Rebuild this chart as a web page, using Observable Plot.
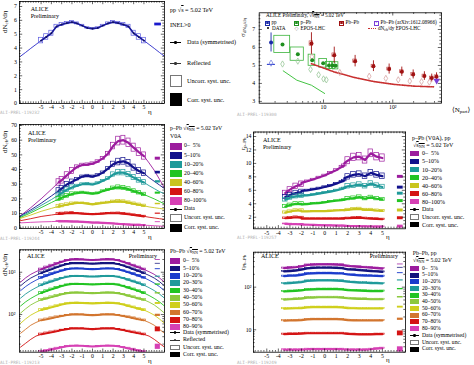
<!DOCTYPE html>
<html><head><meta charset="utf-8">
<script src="https://cdn.jsdelivr.net/npm/d3@7"></script>
<script src="https://cdn.jsdelivr.net/npm/@observablehq/plot@0.6"></script>
<style>
html,body{margin:0;padding:0;background:#fff;}
#page{position:relative;width:474px;height:365px;overflow:hidden;font-family:"Liberation Serif","DejaVu Serif",serif;color:#000;}
#page svg{position:absolute;}
.t{position:absolute;white-space:nowrap;line-height:1;}
.b{position:absolute;box-sizing:border-box;}
.ov{text-decoration:overline;}
sub{font-size:70%;vertical-align:-0.3em;line-height:0;}
.wm{position:absolute;white-space:nowrap;font-family:"DejaVu Sans Mono",monospace;font-size:4.4px;color:#b4b4b4;line-height:1;}
</style></head>
<body><div id="page"></div>
<script>
// ================= DATA =================
const etaTicks = [-5,-4,-3,-2,-1,0,1,2,3,4,5];

// ---- Panel 1: pp dN/deta (symmetrised, 0..5) ----
const ppEta = [0,0.5,1,1.5,2,2.5,3,3.5,4,4.5,5];
const ppVal = [5.40,5.45,5.62,5.78,5.87,5.80,5.70,5.56,5.07,4.80,4.54];
const ppUnc = [0.05,0.05,0.06,0.07,0.08,0.08,0.10,0.12,0.18,0.20,0.20];
const ppTailEta = [5.5,6,6.5,7];
const ppTailVal = [4.26,3.98,3.69,3.41];
const ppCorrLevel = 5.7, ppCorrUnc = 0.1;
const ppYTicks = [0,1,2,3,4,5,6,7];

// ---- Panel 2: width of dN/deta vs Npart ----
const sigYTicks = [3,4,5,6,7];
const npartTicks = [10,100];
const ppNpart = [1.75], ppSig = [6.28], ppSigErr = [0.53];
const ppEposNpart = [1.75], ppEposSig = [5.13];
const ppEposDyNpart = [1.55,1.98], ppEposDy = [5.06,5.06];
const pPbNpart = [2.56,4.26,6.87,9.9,12.0,13.5,15.0];
const pPbSig = [6.17,5.63,5.29,5.12,5.00,5.00,4.98];
const pPbSigSys = [0.48,0.37,0.31,0.24,0.20,0.20,0.20];
const pPbNpartLo = [1.95,3.35,6.1,8.7,10.9,12.3,13.7];
const pPbNpartHi = [3.3,5.2,7.6,11.2,13.3,14.8,16.4];
const pPbEposNpart = [2.56,4.26,6.5,8.5,10,11];
const pPbEposSig = [5.08,5.24,4.78,4.48,4.25,4.20];
const pPbEposDyNpart = [2.62,4.12,6.7,10.4];
const pPbEposDy = [4.70,4.18,3.90,3.44];
const PbPbNpart = [6.7,14.3,28.6,52.6,88.6,135,197,286,365,428];
const PbPbSig = [6.22,5.57,5.24,4.96,4.80,4.65,4.50,4.41,4.30,4.37];
const PbPbSigErr = [0.60,0.45,0.32,0.30,0.28,0.26,0.25,0.24,0.22,0.22];
const PbPbSigSys = [0.12,0.10,0.09,0.08,0.08,0.08,0.08,0.08,0.08,0.08];
const PbPbEposNpart = [6.8,17.2,45.7,79.4,120,176,260,337];
const PbPbEposSig = [5.48,4.61,4.40,4.28,4.20,4.13,4.10,4.07];
const PbPbEposDyNpart = [6.7,14.3,28,54,103,200,390];
const PbPbEposDy = [5.10,4.64,4.33,4.10,3.95,3.85,3.81];
const arxivNpart = [430], arxivSig = [4.15];

// ---- Panel 3: p-Pb dN/deta ----
const pPbClasses = ["0–\u20075%","5–10%","10–20%","20–40%","40–60%","60–80%","80–100%"];
const pPbColors = ["#9c1c9e","#12128c","#1f9a9a","#22c422","#c9c51e","#d41414","#d640b4"];
const pPbEta = [-3.3,-3,-2.5,-2,-1.5,-1,-0.5,0,0.5,1,1.5,2,2.5,3,3.5,4,4.5,5];
const pPbVal = [
 [31.2,32.7,36.0,39.0,41.8,43.1,43.3,44.0,45.4,47.6,50.8,56.0,59.4,60.0,58.2,54.9,51.9,49.2],
 [25.5,27.0,29.8,31.6,33.4,35.2,35.7,35.2,36.1,37.9,40.6,43.6,45.1,45.6,44.2,41.3,39.0,37.5],
 [22.6,23.9,26.2,27.8,28.9,30.0,30.2,29.8,30.7,32.3,33.9,36.6,37.9,37.9,36.6,34.5,32.7,31.2],
 [19.9,20.8,22.1,23.3,23.9,24.4,23.9,23.5,23.9,25.3,26.2,27.3,27.8,27.5,26.6,25.3,24.2,23.0],
 [14.9,15.3,16.0,16.7,17.2,17.2,16.7,16.3,16.7,17.2,17.6,18.1,18.3,18.1,17.4,16.7,16.0,15.3],
 [9.7,9.9,10.2,10.4,10.2,9.9,9.7,9.5,9.7,9.9,10.2,10.2,10.2,9.9,9.5,9.0,8.6,8.1],
 [4.7,4.7,4.7,4.5,4.5,4.3,4.1,3.8,3.8,3.6,3.4,3.2,2.9,2.7,2.5,2.3,2.3,2.0]
];
const pPbUncRel = [0.07,0.07,0.06,0.05,0.025,0.02,0.02,0.02,0.02,0.02,0.025,0.04,0.05,0.05,0.05,0.05,0.05,0.05];
const pPbFitEtaL = [-7.1,-6,-5,-4];
const pPbFitL = [[8,14,20,26.5],[8,12.5,17,22],[7.5,11.5,15.5,19.5],[7,10.5,14,17.5],[6.5,9,11.5,13.5],[5,6.5,8,9],[3.6,4,4.3,4.5]];
const pPbFitEtaR = [5.5,6,6.5,7];
const pPbFitR = [[44.5,39.5,33.5,27.5],[34.5,32,29.5,27],[29,27,25,23.5],[21.5,20,18.3,16.5],[14.5,14,13.5,13],[7.5,7,6.5,6],[1.9,1.7,1.5,1.3]];
const pPbCorrLevel = [47.4,37.9,31.6,23.9,16.5,9.9,4.1];
const pPbCorrUnc = [1.0,0.9,0.8,0.7,0.5,0.4,0.3];
const pPbYTicks = [0,10,20,30,40,50,60,70];

// ---- Panel 4: p-Pb / pp ratio ----
const rpPbEta = [-3.4,-3,-2.5,-2, -2,-1.5,-1,-0.5,0,0.5,1,1.5,1.7, 1.7,2,2.5,3,3.5,4,4.5,5];
const rpPbSeg = [0,0,0,0, 1,1,1,1,1,1,1,1,1, 2,2,2,2,2,2,2,2];
const rpPbVal = [
 [5.6,6.1,6.6,6.9, 7.1,7.35,7.6,7.9,8.2,8.6,9.0,9.5,9.7, 10.0,10.4,10.9,11.0,10.5,11.5,11.0,10.8],
 [5.0,5.3,5.6,5.75, 5.9,6.0,6.15,6.3,6.5,6.7,7.0,7.3,7.45, 7.8,8.0,8.3,8.4,8.1,8.6,8.3,8.1],
 [4.6,4.9,5.1,5.2, 5.2,5.25,5.35,5.5,5.65,5.8,6.0,6.2,6.3, 6.4,6.6,6.7,6.85,6.6,7.0,6.7,6.5],
 [3.6,3.8,4.0,4.0, 3.9,3.95,4.05,4.1,4.2,4.35,4.45,4.55,4.6, 4.6,4.75,4.85,5.0,4.75,4.95,4.75,4.65],
 [2.7,2.85,3.0,3.0, 2.85,2.85,2.9,2.9,2.9,2.95,3.0,3.05,3.05, 3.05,3.1,3.2,3.25,3.1,3.1,3.0,2.95],
 [1.85,1.9,2.0,1.95, 1.8,1.8,1.8,1.8,1.8,1.8,1.8,1.8,1.8, 1.85,1.85,1.9,1.95,1.85,1.8,1.75,1.7],
 [1.0,0.98,0.96,0.95, 0.9,0.88,0.86,0.83,0.8,0.78,0.76,0.74,0.73, 0.72,0.7,0.68,0.66,0.64,0.62,0.61,0.6]
];
const rpPbUncRelBySeg = [0.06,0.015,0.05];
const rpPbCorr = [8.0,6.4,5.5,4.4,3.0,1.85,0.6];
const rpPbYTicks = [2,4,6,8,10,12,14];

// ---- Panel 5: Pb-Pb dN/deta (symmetrised 0..5) ----
const PbPbClasses = ["0–\u20075%","5–10%","10–20%","20–30%","30–40%","40–50%","50–60%","60–70%","70–80%","80–90%"];
const PbPbColors = ["#9c1c9e","#14147c","#1c3ccc","#1f9a9a","#22c422","#8cc83c","#cfcf1c","#d2752e","#d41414","#d640b4"];
const PbPbEta = [0,0.5,1,1.5,2,2.5,3,3.5,4,4.5,5];
const PbPbVal = [
 [1943,1962,2001,2021,2001,1904,1749,1593,1438,1302,1166],
 [1587,1603,1635,1650,1635,1555,1428,1301,1174,1063,952],
 [1180,1192,1215,1227,1215,1168,1086,991,909,826,743],
 [786,794,810,817,810,778,723,660,605,550,495],
 [512,517,527,532,527,507,471,430,394,358,323],
 [318,321,328,331,328,318,299,277,258,239,223],
 [183,185,188,190,188,183,172,159,148,137,128],
 [96,98,100,101,100,97,92,87,82,77,73],
 [45,46,47,47,47,45,43,40,38,36,34],
 [17.5,17.9,18.2,18.4,18.2,17.7,16.8,15.8,14.9,14.0,13.3]
];
const PbPbTailEta = [5.5,6,6.5,7];
const PbPbTail = [
 [1030,894,738,583],[841,730,603,476],[649,555,460,366],[432,369,307,244],[282,241,200,159],
 [197,169,137,108],[113,97,79,62],[65,56,45,36],[31,26,21,17],[11.9,10.2,8.2,6.5]
];
const PbPbUncRel = [0.01,0.01,0.01,0.01,0.015,0.015,0.02,0.04,0.045,0.045,0.045];
const PbPbCorrRel = [0.02,0.02,0.025,0.03,0.035,0.04,0.05,0.06,0.13,0.14];
const PbPbYTicks = [100,1000];

// ---- Panel 6: Pb-Pb / pp ratio ----
const rPbEta = [-3.5,-3,-2.5,-2,-1.5,-1,-0.5,0,0.5,1,1.5,2,2.5,3,3.5,4,4.5,5];
const rPbVal = [
 [280,286,293,307,331,338,341,341,341,338,334,314,307,300,293,286,280,273],
 [234,239,245,257,276,282,285,285,285,282,279,262,257,251,245,239,234,228],
 [181,185,187,194,207,211,213,213,213,211,209,198,194,190,187,185,183,181],
 [122,125,127,131,140,143,144,144,144,143,141,134,131,128,127,125,124,122],
 [79,81,82,84,88,89,90,90,90,90,89,85,84,83,82,81,81,81],
 [51,52,53,54,57,57,58,58,58,58,57,55,54,53,53,52,52,52],
 [31.3,31.6,32,32.3,33.7,34,34,34,34,34,33.7,32.3,32,31.6,31.6,31.6,31.6,31.6],
 [16.3,16.5,16.6,16.8,17.5,17.7,17.7,17.7,17.7,17.7,17.5,16.8,16.6,16.5,16.5,16.5,16.5,16.5],
 [7.9,8.0,8.0,8.1,8.3,8.3,8.3,8.3,8.3,8.3,8.3,8.0,7.9,7.8,7.8,7.8,7.9,7.9],
 [3.4,3.4,3.4,3.4,3.5,3.5,3.5,3.5,3.5,3.5,3.5,3.4,3.4,3.4,3.4,3.5,3.6,3.7]
];
const rPbUncRel = 0.03;
const rPbYTicks = [10,100];

// ================= HELPERS =================
const page = document.getElementById("page");
const SERIF = '"Liberation Serif","DejaVu Serif",serif';
const ppColor = "#2a2ac8";

function minorLin(lo, hi, step, majors) {
  const out = []; const n = Math.round((hi - lo) / step);
  for (let i = 0; i <= n; i++) { const v = +(lo + i * step).toFixed(6); if (!majors.some(m => Math.abs(m - v) < 1e-9)) out.push(v); }
  return out;
}
function minorLog(lo, hi) {
  const out = [];
  for (let e = Math.floor(Math.log10(lo)); e <= Math.ceil(Math.log10(hi)); e++)
    for (let k = 2; k <= 9; k++) { const v = k * 10 ** e; if (v >= lo && v <= hi) out.push(v); }
  return out;
}
function panel(cfg) {
  const {left, top, width, height, fl, fr, ft, fb, x, y, marks} = cfg;
  const fw = fr - fl, fh = fb - ft, M = 3.2, m = 1.7, sw = 0.6, k = "#000";
  const ax = [
    Plot.tickX(x.major, {x: d => d, insetTop: fh - M, stroke: k, strokeWidth: sw}),
    Plot.tickX(x.major, {x: d => d, insetBottom: fh - M, stroke: k, strokeWidth: sw}),
    Plot.tickX(x.minor, {x: d => d, insetTop: fh - m, stroke: k, strokeWidth: sw}),
    Plot.tickX(x.minor, {x: d => d, insetBottom: fh - m, stroke: k, strokeWidth: sw}),
    Plot.tickY(y.major, {y: d => d, insetRight: fw - M, stroke: k, strokeWidth: sw}),
    Plot.tickY(y.major, {y: d => d, insetLeft: fw - M, stroke: k, strokeWidth: sw}),
    Plot.tickY(y.minor, {y: d => d, insetRight: fw - m, stroke: k, strokeWidth: sw}),
    Plot.tickY(y.minor, {y: d => d, insetLeft: fw - m, stroke: k, strokeWidth: sw}),
    Plot.axisX(x.major, {tickSize: 0, tickPadding: 1.8, tickFormat: x.fmt || (d => String(d)), fontSize: 5.8, label: null}),
    Plot.axisY(y.major, {tickSize: 0, tickPadding: y.pad ?? 3, tickFormat: y.fmt || (d => String(d)), fontSize: 5.8, label: null})
  ];
  const svg = Plot.plot({
    width, height,
    marginLeft: fl - left, marginRight: left + width - fr, marginTop: ft - top, marginBottom: top + height - fb,
    x: {type: x.type || "linear", domain: x.domain},
    y: {type: y.type || "linear", domain: y.domain},
    style: {fontFamily: SERIF, background: "transparent", overflow: "visible", color: "#000"},
    marks: [...marks, Plot.frame({stroke: "#000", strokeWidth: 0.8}), ...ax]
  });
  svg.style.left = left + "px"; svg.style.top = top + "px"; svg.style.maxWidth = "none";
  page.appendChild(svg);
}
function addText(x, y, html, size, opt = {}) {
  const d = document.createElement("div");
  d.className = "t"; d.style.fontSize = size + "px"; d.innerHTML = html;
  d.style.top = (y - size * 0.5) + "px";
  if (opt.right) d.style.right = (474 - x) + "px"; else d.style.left = x + "px";
  if (opt.color) d.style.color = opt.color;
  page.appendChild(d); return d;
}
function addVText(cx, bottom, html, size) {
  const d = document.createElement("div");
  d.className = "t"; d.style.fontSize = size + "px"; d.innerHTML = html;
  d.style.left = (cx - size / 2) + "px"; d.style.top = bottom + "px";
  d.style.transformOrigin = "0 0"; d.style.transform = "rotate(-90deg)";
  page.appendChild(d);
}
function addBox(x, y, w, h, fill, stroke, sw = 0.8, extra = {}) {
  const d = document.createElement("div"); d.className = "b";
  Object.assign(d.style, {left: x + "px", top: y + "px", width: w + "px", height: h + "px",
    background: fill || "transparent", border: stroke ? `${sw}px solid ${stroke}` : "none"}, extra);
  page.appendChild(d); return d;
}
function addMarkerLine(x, y, w, color) {
  addBox(x, y - 0.4, w, 0.8, color);
  addBox(x + w / 2 - 1.3, y - 1.3, 2.6, 2.6, color, null, 0, {borderRadius: "50%"});
}
function addWM(x, y, s) { const d = document.createElement("div"); d.className = "wm"; d.style.left = x + "px"; d.style.top = y + "px"; d.textContent = s; page.appendChild(d); }

// ================= PANEL 1: pp =================
{
  const rows = [];
  for (let i = ppEta.length - 1; i > 0; i--) rows.push({eta: -ppEta[i], v: ppVal[i], e: ppUnc[i]});
  for (let i = 0; i < ppEta.length; i++) rows.push({eta: ppEta[i], v: ppVal[i], e: ppUnc[i]});
  const fit = [];
  for (let i = ppTailEta.length - 1; i >= 0; i--) fit.push({eta: -ppTailEta[i], v: ppTailVal[i]});
  fit.push(...rows);
  for (let i = 0; i < ppTailEta.length; i++) fit.push({eta: ppTailEta[i], v: ppTailVal[i]});
  panel({left: 0, top: 0, width: 237, height: 120, fl: 19, fr: 164, ft: 1, fb: 103,
    x: {domain: [-7.1, 7.0], major: etaTicks, minor: minorLin(-7, 7, 0.25, etaTicks)},
    y: {domain: [0, 7.36], major: ppYTicks, minor: minorLin(0, 7.2, 0.2, ppYTicks), pad: 2.5},
    marks: [
      Plot.line(fit, {x: "eta", y: "v", stroke: ppColor, strokeWidth: 0.9, clip: true}),
      Plot.rect(rows, {x1: d => d.eta - 0.2, x2: d => d.eta + 0.2, y1: d => d.v - d.e, y2: d => d.v + d.e, stroke: "#5a5ae0", fill: "none", strokeWidth: 0.7}),
      Plot.line(rows, {x: "eta", y: "v", stroke: "#1a1a9a", strokeWidth: 1.6}),
      Plot.dot(rows, {x: "eta", y: "v", r: 0.9, fill: "#101060"}),
      Plot.rect([ppCorrLevel], {x1: () => 6.05, x2: () => 6.7, y1: d => d - ppCorrUnc, y2: d => d + ppCorrUnc, fill: "#1a1acc"})
    ]});
}

// ================= PANEL 2: sigma vs Npart =================
{
  const ppD = ppNpart.map((n, i) => ({n, s: ppSig[i], e: ppSigErr[i]}));
  const pPbD = pPbNpart.map((n, i) => ({n, s: pPbSig[i], e: pPbSigSys[i], lo: pPbNpartLo[i], hi: pPbNpartHi[i]}));
  const PbD = PbPbNpart.map((n, i) => ({n, s: PbPbSig[i], e: PbPbSigErr[i], sy: PbPbSigSys[i]}));
  const green = "#1f8f1f", red = "#a01212", blue = "#1a2aa8", purple = "#7a3fd8";
  panel({left: 237, top: 0, width: 237, height: 120, fl: 258.7, fr: 441, ft: 12.3, fb: 102.7,
    x: {type: "log", domain: [1.18, 505], major: npartTicks, minor: minorLog(1.18, 505).filter(v => v !== 10 && v !== 100),
        fmt: d => d === 10 ? "10" : "10²"},
    y: {domain: [2.9, 7.93], major: sigYTicks, minor: minorLin(3, 7.8, 0.2, sigYTicks), pad: 4},
    marks: [
      Plot.rect(pPbD, {x1: "lo", x2: "hi", y1: d => d.s - d.e, y2: d => d.s + d.e, stroke: "#3cb43c", fill: "none", strokeWidth: 0.8}),
      Plot.rect(PbD, {x1: d => d.n * 0.94, x2: d => d.n * 1.06, y1: d => d.s - d.sy, y2: d => d.s + d.sy, stroke: "#c04040", fill: "none", strokeWidth: 0.6}),
      Plot.line(pPbEposDyNpart.map((n, i) => ({n, s: pPbEposDy[i]})), {x: "n", y: "s", stroke: "#44c444", strokeWidth: 1}),
      Plot.line(PbPbEposDyNpart.map((n, i) => ({n, s: PbPbEposDy[i]})), {x: "n", y: "s", stroke: "#c83030", strokeWidth: 1.6, strokeDasharray: "0.8,1"}),
      Plot.line(ppEposDyNpart.map((n, i) => ({n, s: ppEposDy[i]})), {x: "n", y: "s", stroke: "#3a4ad0", strokeWidth: 1.2, strokeDasharray: "1,1"}),
      Plot.dot(pPbEposNpart.map((n, i) => ({n, s: pPbEposSig[i]})), {x: "n", y: "s", symbol: "diamond", r: 1.9, stroke: "#9ac89a", strokeWidth: 0.8, fill: "none"}),
      Plot.dot(PbPbEposNpart.map((n, i) => ({n, s: PbPbEposSig[i]})), {x: "n", y: "s", symbol: "diamond", r: 1.9, stroke: "#d8a6a6", strokeWidth: 0.8, fill: "none"}),
      Plot.dot(ppEposNpart.map((n, i) => ({n, s: ppEposSig[i]})), {x: "n", y: "s", symbol: "diamond", r: 1.9, stroke: "#7a86e0", strokeWidth: 0.8, fill: "none"}),
      Plot.ruleX(ppD, {x: "n", y1: d => d.s - d.e, y2: d => d.s + d.e, stroke: blue, strokeWidth: 0.9}),
      Plot.ruleX(PbD, {x: "n", y1: d => d.s - d.e, y2: d => d.s + d.e, stroke: red, strokeWidth: 0.9}),
      Plot.dot(ppD, {x: "n", y: "s", r: 2, fill: blue}),
      Plot.dot(pPbD, {x: "n", y: "s", r: 2, fill: green}),
      Plot.dot(PbD, {x: "n", y: "s", r: 2, fill: red}),
      Plot.dot(arxivNpart.map((n, i) => ({n, s: arxivSig[i]})), {x: "n", y: "s", symbol: "triangle", rotate: 180, r: 2.4, fill: purple})
    ]});
}

// ================= PANEL 3: p-Pb dN/deta =================
{
  const marks = [];
  pPbClasses.forEach((c, ci) => {
    const col = pPbColors[ci];
    const rows = pPbEta.map((eta, i) => ({eta, v: pPbVal[ci][i], e: pPbVal[ci][i] * pPbUncRel[i]}));
    const fit = [...pPbFitEtaL.map((eta, i) => ({eta, v: pPbFitL[ci][i]})), ...rows, ...pPbFitEtaR.map((eta, i) => ({eta, v: pPbFitR[ci][i]}))];
    marks.push(Plot.line(fit, {x: "eta", y: "v", stroke: col, strokeWidth: 0.9, clip: true}));
    marks.push(Plot.rect(rows, {x1: d => d.eta - 0.2, x2: d => d.eta + 0.2, y1: d => d.v - d.e, y2: d => d.v + d.e, stroke: col, fill: "none", strokeWidth: 0.7}));
    marks.push(Plot.line(rows, {x: "eta", y: "v", stroke: col, strokeWidth: 2.2}));
    marks.push(Plot.rect([pPbCorrLevel[ci]], {x1: () => 6.1, x2: () => 6.6, y1: d => d - pPbCorrUnc[ci], y2: d => d + pPbCorrUnc[ci], fill: col}));
  });
  panel({left: 0, top: 120, width: 237, height: 120, fl: 19, fr: 164, ft: 124, fb: 228,
    x: {domain: [-7.1, 7.0], major: etaTicks, minor: minorLin(-7, 7, 0.25, etaTicks)},
    y: {domain: [-0.2, 70.7], major: pPbYTicks, minor: minorLin(0, 70, 2, pPbYTicks), pad: 2.5},
    marks});
}

// ================= PANEL 4: p-Pb / pp =================
{
  const marks = [];
  pPbClasses.forEach((c, ci) => {
    const col = pPbColors[ci];
    const rows = rpPbEta.map((eta, i) => ({eta, seg: rpPbSeg[i], v: rpPbVal[ci][i], e: rpPbVal[ci][i] * rpPbUncRelBySeg[rpPbSeg[i]]}));
    const boxes = rows.filter((d, i) => i === 0 || rows[i - 1].eta !== d.eta);
    marks.push(Plot.rect(boxes, {x1: d => d.eta - 0.2, x2: d => d.eta + 0.2, y1: d => d.v - d.e, y2: d => d.v + d.e, stroke: col, fill: "none", strokeWidth: 0.7}));
    marks.push(Plot.line(rows, {x: "eta", y: "v", z: "seg", stroke: col, strokeWidth: 2.2}));
    marks.push(Plot.rect([rpPbCorr[ci]], {x1: () => 6.3, x2: () => 6.8, y1: d => d - 0.22, y2: d => d + 0.22, fill: col}));
  });
  panel({left: 237, top: 120, width: 237, height: 120, fl: 253, fr: 405, ft: 131.5, fb: 228.3,
    x: {domain: [-6.15, 7.0], major: etaTicks, minor: minorLin(-6, 7, 0.25, etaTicks)},
    y: {domain: [0.28, 14.67], major: rpPbYTicks, minor: minorLin(0.5, 14.5, 0.5, rpPbYTicks), pad: 2},
    marks});
}

// ================= PANEL 5: Pb-Pb dN/deta =================
{
  const marks = [];
  PbPbClasses.forEach((c, ci) => {
    const col = PbPbColors[ci];
    const rows = [];
    for (let i = PbPbEta.length - 1; i > 0; i--) rows.push({eta: -PbPbEta[i], v: PbPbVal[ci][i], e: PbPbVal[ci][i] * PbPbUncRel[i]});
    for (let i = 0; i < PbPbEta.length; i++) rows.push({eta: PbPbEta[i], v: PbPbVal[ci][i], e: PbPbVal[ci][i] * PbPbUncRel[i]});
    const fit = [];
    for (let i = PbPbTailEta.length - 1; i >= 0; i--) fit.push({eta: -PbPbTailEta[i], v: PbPbTail[ci][i]});
    fit.push(...rows);
    for (let i = 0; i < PbPbTailEta.length; i++) fit.push({eta: PbPbTailEta[i], v: PbPbTail[ci][i]});
    marks.push(Plot.line(fit, {x: "eta", y: "v", stroke: col, strokeWidth: 0.9, clip: true}));
    marks.push(Plot.rect(rows, {x1: d => d.eta - 0.2, x2: d => d.eta + 0.2, y1: d => d.v - d.e, y2: d => d.v + d.e, stroke: col, fill: "none", strokeWidth: 0.7, clip: true}));
    marks.push(Plot.line(rows, {x: "eta", y: "v", stroke: col, strokeWidth: 1.9, clip: true}));
    const v0 = PbPbVal[ci][0];
    marks.push(Plot.rect([v0], {x1: () => 6.1, x2: () => 6.6, y1: d => d * (1 - PbPbCorrRel[ci]), y2: d => d * (1 + PbPbCorrRel[ci]), fill: col}));
  });
  panel({left: 0, top: 240, width: 237, height: 125, fl: 19, fr: 164, ft: 249.3, fb: 351.7,
    x: {domain: [-7.1, 7.0], major: etaTicks, minor: minorLin(-7, 7, 0.25, etaTicks)},
    y: {type: "log", domain: [12.9, 3390], major: PbPbYTicks, minor: minorLog(12.9, 3390), fmt: d => d === 1000 ? "10³" : "10²", pad: 4},
    marks});
}

// ================= PANEL 6: Pb-Pb / pp =================
{
  const marks = [];
  PbPbClasses.forEach((c, ci) => {
    const col = PbPbColors[ci];
    const rows = rPbEta.map((eta, i) => ({eta, v: rPbVal[ci][i]}));
    marks.push(Plot.rect(rows, {x1: d => d.eta - 0.2, x2: d => d.eta + 0.2, y1: d => d.v * (1 - rPbUncRel), y2: d => d.v * (1 + rPbUncRel), stroke: col, fill: "none", strokeWidth: 0.6}));
    marks.push(Plot.line(rows, {x: "eta", y: "v", stroke: col, strokeWidth: 2.2}));
    const v0 = rPbVal[ci][7];
    marks.push(Plot.rect([v0], {x1: () => 6.3, x2: () => 6.8, y1: d => d * (1 - PbPbCorrRel[ci]), y2: d => d * (1 + PbPbCorrRel[ci]), fill: col}));
  });
  panel({left: 237, top: 240, width: 237, height: 125, fl: 253, fr: 405, ft: 251.7, fb: 351.7,
    x: {domain: [-6.15, 7.0], major: etaTicks, minor: minorLin(-6, 7, 0.25, etaTicks)},
    y: {type: "log", domain: [2.98, 661], major: rPbYTicks, minor: minorLog(2.98, 661), fmt: d => d === 100 ? "10²" : "10", pad: 2},
    marks});
}

// ================= TEXT / LEGENDS =================
const sNN = '√<span class="ov">s<sub>NN</sub></span>';
// Axis titles
addVText(5.5, 33, 'dN<sub>ch</sub>/dη', 7);
addVText(5.5, 153, 'dN<sub>ch</sub>/dη', 7);
addVText(5.5, 276, 'dN<sub>ch</sub>/dη', 7);
addVText(243, 37, 'σ<sub>dN<sub>ch</sub>/dη</sub>', 7);
addVText(243, 150, 'r<sub>p–Pb</sub>', 7);
addVText(243, 270, 'r<sub>Pb–Pb</sub>', 7);
addText(148, 112.5, 'η', 7);
addText(148, 237.5, 'η', 7);
addText(148, 361, 'η', 7);
addText(386, 237.5, 'η', 7);
addText(386, 360.5, 'η', 7);
addText(452, 110, '⟨N<sub>part</sub>⟩', 7);

// ALICE labels
addText(30.7, 8.5, 'ALICE', 6); addText(30.7, 15.5, 'Preliminary', 6);
addText(28, 132.7, 'ALICE', 6); addText(28, 140, 'Preliminary', 6);
addText(263, 140, 'ALICE', 6); addText(263, 147, 'Preliminary', 6);
addText(27, 256, 'ALICE', 6); addText(157, 256, 'Preliminary', 6, {right: true});
addText(261, 256, 'ALICE', 6); addText(398, 256, 'Preliminary', 6, {right: true});

// Watermarks
addWM(0, 111, 'ALI-PREL-119232');
addWM(237, 113, 'ALI-PREL-119300');
addWM(0, 236.5, 'ALI-PREL-119244');
addWM(237, 235.5, 'ALI-PREL-119257');
addWM(0, 360.5, 'ALI-PREL-119213');
addWM(237, 360.5, 'ALI-PREL-119249');

// Panel 1 legend
addText(170, 10, 'pp √<span class="ov">s</span> = 5.02 TeV', 6.2);
addText(170, 25, 'INEL&gt;0', 6.2);
addMarkerLine(170, 42.3, 11, "#000"); addText(187, 42.3, 'Data (symmetrised)', 6.2);
addMarkerLine(170, 63.3, 11, "#333"); addText(187, 63.3, 'Reflected', 6.2);
addBox(170, 75, 11.5, 12.3, null, "#777", 0.8); addText(187, 81, 'Uncorr. syst. unc.', 6.2);
addBox(170, 93.3, 11.5, 12.7, "#000"); addText(187, 100, 'Corr. syst. unc.', 6.2);

// Panel 2 legend
addText(266, 16, 'ALICE Preliminary, ' + sNN + ' = 5.02 TeV', 5.2);
function legBox(x, y, col) { addBox(x, y - 2.5, 5.5, 5, null, col, 0.8); addBox(x + 1.6, y - 0.9, 2.3, 2.3, col, null, 0, {borderRadius: "50%"}); }
legBox(264.8, 23, "#1a2aa8"); addText(271.5, 23, 'pp', 5.2);
legBox(293.7, 23, "#1f8f1f"); addText(300.5, 23, 'p–Pb', 5.2);
legBox(338.7, 23, "#a01212"); addText(345.5, 23, 'Pb–Pb', 5.2);
addBox(373.7, 20.5, 5.5, 5, null, "#7a3fd8", 0.8);
addText(374.6, 22.6, '▼', 3.6, {color: "#7a3fd8"});
addText(380.5, 23, 'Pb–Pb (arXiv:1612.08966)', 5.2);
addBox(266.6, 27.2, 2.3, 2.3, "#000", null, 0, {borderRadius: "50%"}); addText(272, 28.5, 'DATA', 5.2);
addText(294.6, 28.3, '◇', 5.2, {color: "#777"}); addText(300.5, 28.5, 'EPOS-LHC', 5.2);
addBox(367.5, 27.9, 8, 1.2, null, null, 0, {borderTop: "1.2px dotted #c83030"});
addText(378, 28.5, 'dN<sub>ch</sub>/dy EPOS-LHC', 5.2);

// Panel 3 legend
addText(170, 129.3, 'p–Pb ' + sNN + ' = 5.02 TeV', 5.8);
addText(170, 136.7, 'V0A', 5.8);
pPbClasses.forEach((c, i) => { addBox(170, 142.7 + i * 9.1, 11.5, 7.3, pPbColors[i]); addText(184, 146.3 + i * 9.1, c, 5.8); });
addMarkerLine(170, 209.3, 11.5, "#000"); addText(184, 209.3, 'Data', 5.8);
addBox(170, 214.3, 11.5, 8, null, "#777", 0.8); addText(184, 218.3, 'Uncorr. syst. unc.', 5.8);
addBox(170, 224.3, 11.5, 7.4, "#000"); addText(184, 228, 'Corr. syst. unc.', 5.8);

// Panel 4 legend
addText(412, 138.3, 'p–Pb (V0A), pp', 6);
addText(413, 145.3, sNN + ' = 5.02 TeV', 6);
pPbClasses.forEach((c, i) => { addBox(410.3, 150.7 + i * 8.05, 8.6, 5.4, pPbColors[i]); addText(422, 153.4 + i * 8.05, c, 6); });
addMarkerLine(410.3, 209.3, 8.6, "#000"); addText(422, 209.3, 'Data', 6);
addBox(410.3, 214.3, 8.6, 5.7, null, "#777", 0.8); addText(422, 217.2, 'Uncorr. syst. unc.', 6);
addBox(410.3, 221.7, 8.6, 5.6, "#000"); addText(422, 224.5, 'Corr. syst. unc.', 6);

// Panel 5 legend
addText(170, 251.7, 'Pb–Pb ' + sNN + ' = 5.02 TeV', 5.8);
PbPbClasses.forEach((c, i) => { addBox(170, 258.3 + i * 7.33, 10.3, 5.7, PbPbColors[i]); addText(183, 261.2 + i * 7.33, c, 5.8); });
addMarkerLine(170, 332.7, 10.3, "#000"); addText(183, 332.7, 'Data (symmetrised)', 5.8);
addMarkerLine(170, 340, 10.3, "#333"); addText(183, 340, 'Reflected', 5.8);
addBox(170, 345, 10.3, 5.2, null, "#777", 0.8); addText(183, 347.6, 'Uncorr. syst. unc.', 5.8);
addBox(170, 352.3, 10.3, 5.2, "#000"); addText(183, 354.9, 'Corr. syst. unc.', 5.8);

// Panel 6 legend
addText(412.7, 254, 'Pb–Pb, pp', 5.8);
addText(413, 260.7, sNN + ' = 5.02 TeV', 5.8);
PbPbClasses.forEach((c, i) => { addBox(410.3, 266 + i * 6.67, 8.6, 5, PbPbColors[i]); addText(422, 268.5 + i * 6.67, c, 5.6); });
addMarkerLine(410.3, 335.7, 8.6, "#000"); addText(422, 335.7, 'Data (symmetrised)', 5.6);
addBox(410.3, 340, 8.6, 4.5, null, "#777", 0.8); addText(422, 342.3, 'Uncorr. syst. unc.', 5.6);
addBox(410.3, 346.7, 8.6, 5, "#000"); addText(422, 349.2, 'Corr. syst. unc.', 5.6);
</script></body></html>
